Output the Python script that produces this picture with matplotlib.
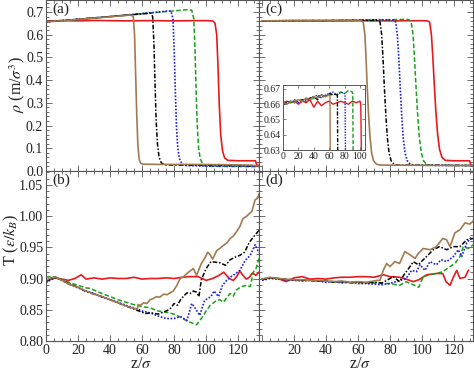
import matplotlib
matplotlib.use("Agg")
import matplotlib.pyplot as plt
from matplotlib.ticker import MultipleLocator, FormatStrFormatter, NullFormatter

plt.rcParams['font.family'] = ['Liberation Serif', 'DejaVu Serif']
plt.rcParams['mathtext.fontset'] = 'stix'

# ---------------- data ----------------
# panel (a): density profiles
z_a_brown = [0, 10, 20, 30, 40, 50, 53, 54.5, 55.3, 56.0, 56.7, 57.4, 58.2, 59.2, 61, 70, 90, 110, 128, 133]
r_a_brown = [0.657, 0.662, 0.667, 0.673, 0.679, 0.685, 0.687, 0.680, 0.60, 0.42, 0.24, 0.11, 0.05, 0.033, 0.030, 0.029, 0.029, 0.028, 0.026, 0.022]
z_a_black = [0, 10, 20, 30, 40, 50, 60, 65.5, 66.6, 67.4, 68.1, 68.8, 69.6, 70.6, 72, 74, 80, 100, 120, 133]
r_a_black = [0.657, 0.662, 0.668, 0.674, 0.680, 0.686, 0.692, 0.695, 0.680, 0.56, 0.38, 0.22, 0.12, 0.06, 0.036, 0.027, 0.026, 0.025, 0.024, 0.022]
z_a_blue = [0, 20, 40, 60, 70, 76, 78, 79.3, 80.1, 80.8, 81.5, 82.3, 83.3, 84.8, 86.5, 100, 133]
r_a_blue = [0.657, 0.668, 0.680, 0.693, 0.700, 0.705, 0.704, 0.67, 0.52, 0.34, 0.19, 0.10, 0.055, 0.032, 0.024, 0.022, 0.021]
z_a_green = [0, 20, 40, 60, 80, 89, 91, 92.3, 93.1, 93.8, 94.5, 95.3, 96.3, 97.8, 99.5, 110, 133]
r_a_green = [0.657, 0.668, 0.680, 0.693, 0.705, 0.711, 0.708, 0.67, 0.52, 0.34, 0.19, 0.10, 0.055, 0.030, 0.021, 0.020, 0.019]
z_a_red = [0, 10, 20, 30, 40, 50, 60, 70, 80, 90, 100, 104, 105.5, 106.6, 107.4, 108.2, 109.1, 110.2, 111.5, 113.5, 120, 130.8, 131.6, 133]
r_a_red = [0.661, 0.662, 0.661, 0.663, 0.662, 0.661, 0.662, 0.662, 0.661, 0.662, 0.662, 0.661, 0.652, 0.60, 0.46, 0.29, 0.16, 0.09, 0.058, 0.047, 0.045, 0.045, 0.027, 0.024]

# panel (c): density profiles
z_c_brown = [0, 20, 40, 62, 63.3, 64.3, 65.0, 65.7, 66.5, 67.5, 68.5, 69.7, 71.5, 74, 100, 133]
r_c_brown = [0.661, 0.662, 0.662, 0.662, 0.655, 0.60, 0.50, 0.38, 0.26, 0.15, 0.08, 0.045, 0.030, 0.026, 0.025, 0.024]
z_c_black = [0, 20, 40, 60, 72.5, 73.8, 74.8, 75.6, 76.4, 77.3, 78.3, 79.4, 80.7, 82.5, 85, 110, 133]
r_c_black = [0.661, 0.662, 0.662, 0.663, 0.663, 0.655, 0.60, 0.50, 0.38, 0.26, 0.15, 0.08, 0.045, 0.030, 0.026, 0.025, 0.024]
z_c_blue = [0, 20, 40, 60, 75, 82.3, 83.6, 84.6, 85.5, 86.3, 87.2, 88.2, 89.4, 90.8, 92.6, 95, 110, 133]
r_c_blue = [0.661, 0.662, 0.663, 0.664, 0.666, 0.665, 0.655, 0.60, 0.50, 0.38, 0.26, 0.15, 0.08, 0.045, 0.030, 0.026, 0.025, 0.024]
z_c_green = [0, 20, 40, 60, 80, 90, 92.0, 93.3, 94.4, 95.3, 96.2, 97.2, 98.3, 99.6, 101.0, 102.8, 105, 120, 133]
r_c_green = [0.661, 0.662, 0.663, 0.664, 0.666, 0.668, 0.666, 0.655, 0.60, 0.50, 0.38, 0.26, 0.15, 0.08, 0.045, 0.030, 0.026, 0.025, 0.024]
z_c_red = [0, 20, 40, 60, 80, 100, 103.5, 104.8, 105.9, 106.8, 107.7, 108.7, 109.8, 111.0, 112.5, 114.5, 120, 129.8, 130.6, 133]
r_c_red = [0.661, 0.662, 0.661, 0.662, 0.661, 0.662, 0.661, 0.655, 0.60, 0.50, 0.38, 0.26, 0.16, 0.095, 0.060, 0.047, 0.045, 0.045, 0.024, 0.022]

# inset of (c): zoom on the plateau
z_i_brown = [0, 5, 10, 15, 20, 25, 30, 35, 40, 45, 50, 55, 60, 61, 61.5]
r_i_brown = [0.661, 0.660, 0.662, 0.661, 0.663, 0.662, 0.664, 0.663, 0.665, 0.664, 0.666, 0.665, 0.666, 0.666, 0.620]
z_i_black = [0, 5, 10, 15, 20, 25, 30, 35, 40, 45, 50, 55, 60, 65, 70, 70.6, 71.2]
r_i_black = [0.660, 0.661, 0.662, 0.661, 0.662, 0.663, 0.662, 0.664, 0.665, 0.663, 0.666, 0.665, 0.667, 0.666, 0.667, 0.666, 0.620]
z_i_blue = [0, 5, 10, 15, 20, 25, 30, 35, 40, 45, 50, 55, 60, 65, 70, 75, 80, 80.6, 81.2]
r_i_blue = [0.661, 0.660, 0.662, 0.662, 0.661, 0.663, 0.663, 0.664, 0.665, 0.666, 0.664, 0.666, 0.667, 0.668, 0.666, 0.668, 0.667, 0.666, 0.620]
z_i_green = [0, 5, 10, 15, 20, 25, 30, 35, 40, 45, 50, 55, 60, 65, 70, 75, 80, 85, 90, 90.6, 91.2]
r_i_green = [0.660, 0.661, 0.661, 0.663, 0.662, 0.662, 0.664, 0.663, 0.664, 0.665, 0.666, 0.665, 0.666, 0.667, 0.666, 0.668, 0.667, 0.669, 0.668, 0.667, 0.620]
z_i_red = [0, 5, 10, 15, 20, 25, 30, 35, 40, 45, 50, 55, 60, 65, 70, 75, 80, 85, 90, 95, 100, 101, 102]
r_i_red = [0.661, 0.662, 0.661, 0.662, 0.660, 0.662, 0.661, 0.663, 0.658, 0.662, 0.659, 0.661, 0.662, 0.660, 0.661, 0.662, 0.661, 0.660, 0.662, 0.661, 0.662, 0.660, 0.620]

# panel (b): temperature profiles
z_b_red = [0, 3, 6, 10, 14, 18, 22, 25, 30, 35, 40, 45, 50, 55, 60, 65, 70, 75, 80, 85, 90, 95, 100, 104, 108, 111, 113, 115, 117, 119, 121, 123, 125, 127, 129, 131, 133]
T_b_red = [0.895, 0.899, 0.901, 0.899, 0.897, 0.900, 0.906, 0.899, 0.901, 0.899, 0.901, 0.900, 0.900, 0.902, 0.899, 0.900, 0.900, 0.901, 0.900, 0.902, 0.903, 0.903, 0.897, 0.900, 0.905, 0.910, 0.904, 0.899, 0.897, 0.903, 0.912, 0.905, 0.899, 0.902, 0.909, 0.905, 0.910]
z_b_green = [0, 3, 6, 10, 15, 20, 25, 28, 32, 36, 40, 45, 50, 55, 60, 65, 70, 75, 80, 84, 88, 92, 94, 97, 100, 102.5, 105, 106.7, 108.5, 110.8, 113, 115, 117, 119, 122, 125, 127.5, 129.6, 131, 133]
T_b_green = [0.902, 0.903, 0.902, 0.898, 0.893, 0.889, 0.885, 0.884, 0.879, 0.875, 0.871, 0.866, 0.862, 0.858, 0.855, 0.853, 0.848, 0.846, 0.843, 0.838, 0.832, 0.828, 0.826, 0.836, 0.848, 0.857, 0.862, 0.865, 0.866, 0.862, 0.870, 0.876, 0.872, 0.882, 0.887, 0.889, 0.887, 0.911, 0.915, 0.932]
z_b_blue = [0, 3, 6, 10, 15, 20, 25, 30, 35, 40, 45, 50, 55, 60, 65, 70, 75, 80, 84, 88, 91, 92.5, 94, 96, 99, 101, 103, 105, 107.7, 110, 112, 115, 118, 121, 124.4, 127.5, 130.6, 133]
T_b_blue = [0.893, 0.898, 0.901, 0.897, 0.890, 0.885, 0.880, 0.876, 0.870, 0.866, 0.862, 0.857, 0.853, 0.848, 0.845, 0.840, 0.836, 0.836, 0.839, 0.833, 0.860, 0.855, 0.849, 0.841, 0.865, 0.868, 0.871, 0.880, 0.871, 0.888, 0.895, 0.902, 0.907, 0.913, 0.929, 0.937, 0.954, 0.941]
z_b_black = [0, 3, 6, 10, 15, 20, 25, 30, 35, 40, 45, 50, 55, 58, 62, 66, 70, 73, 76, 78, 80, 82, 84, 86, 88, 90, 92, 94, 95.5, 97, 100, 103, 106, 109, 112, 115, 118, 121, 124, 127, 130, 133]
T_b_black = [0.895, 0.900, 0.902, 0.897, 0.891, 0.886, 0.879, 0.875, 0.871, 0.866, 0.861, 0.856, 0.851, 0.848, 0.844, 0.845, 0.843, 0.846, 0.849, 0.853, 0.860, 0.857, 0.866, 0.872, 0.877, 0.876, 0.880, 0.878, 0.871, 0.898, 0.916, 0.927, 0.926, 0.925, 0.921, 0.930, 0.934, 0.937, 0.942, 0.958, 0.968, 0.977]
z_b_brown = [0, 3, 6, 10, 15, 20, 25, 30, 35, 40, 45, 50, 55, 57, 57.5, 59, 61, 63, 65, 67, 69, 71, 73.5, 75.5, 77.5, 79.5, 81.7, 83.75, 86, 88, 90, 92, 94, 97, 99, 101, 102.5, 104, 106.7, 108.5, 110.8, 113, 115, 117, 119, 121, 123, 125, 127, 128.5, 130.6, 132, 133]
T_b_brown = [0.897, 0.901, 0.902, 0.897, 0.890, 0.886, 0.880, 0.875, 0.871, 0.866, 0.861, 0.856, 0.852, 0.851, 0.858, 0.857, 0.861, 0.860, 0.866, 0.868, 0.871, 0.870, 0.875, 0.874, 0.877, 0.880, 0.889, 0.900, 0.903, 0.908, 0.912, 0.916, 0.905, 0.924, 0.932, 0.942, 0.938, 0.931, 0.945, 0.948, 0.953, 0.957, 0.964, 0.968, 0.975, 0.983, 0.996, 0.999, 1.004, 1.007, 1.026, 1.028, 1.035]

# panel (d): temperature profiles
z_d_red = [0, 5, 10, 15, 20, 25, 30, 35, 40, 45, 50, 55, 60, 65, 70, 75.8, 80, 86, 90, 94.6, 98, 103, 109, 113, 115, 117.5, 119.6, 121.7, 123.75, 126.9, 129]
T_d_red = [0.899, 0.901, 0.900, 0.895, 0.901, 0.903, 0.899, 0.900, 0.899, 0.901, 0.902, 0.902, 0.903, 0.903, 0.902, 0.906, 0.903, 0.902, 0.899, 0.895, 0.898, 0.906, 0.908, 0.908, 0.895, 0.889, 0.902, 0.913, 0.900, 0.902, 0.913]
z_d_green = [0, 5, 10, 15, 20, 25, 30, 35, 40, 45, 50, 55, 60, 65, 70, 75, 80, 86, 90, 94.6, 98, 100.8, 105, 109, 113, 117.5, 120.6, 123.75, 125.8, 129, 132]
T_d_green = [0.899, 0.901, 0.900, 0.899, 0.898, 0.898, 0.897, 0.896, 0.896, 0.895, 0.895, 0.894, 0.894, 0.893, 0.893, 0.892, 0.892, 0.889, 0.895, 0.890, 0.886, 0.903, 0.906, 0.908, 0.911, 0.919, 0.924, 0.935, 0.951, 0.948, 0.954]
z_d_blue = [0, 5, 10, 15, 20, 25, 30, 35, 40, 45, 50, 55, 60, 65, 70, 75, 80, 85, 90, 93.5, 96.6, 98.75, 101.9, 105, 109, 112, 115.4, 119.6, 122.7, 124.8, 128, 131]
T_d_blue = [0.897, 0.900, 0.899, 0.898, 0.897, 0.896, 0.897, 0.896, 0.894, 0.895, 0.893, 0.894, 0.892, 0.892, 0.891, 0.890, 0.892, 0.896, 0.900, 0.913, 0.911, 0.922, 0.913, 0.927, 0.922, 0.930, 0.927, 0.935, 0.946, 0.935, 0.957, 0.967]
z_d_black = [0, 5, 10, 15, 20, 25, 30, 35, 40, 45, 50, 55, 60, 65, 70, 75, 78, 82, 84, 86, 89.3, 92.5, 94.6, 97.7, 100.8, 104, 107, 111, 115.4, 119.6, 123.75, 128, 132]
T_d_black = [0.898, 0.901, 0.900, 0.898, 0.898, 0.897, 0.897, 0.896, 0.896, 0.894, 0.895, 0.893, 0.894, 0.893, 0.894, 0.893, 0.897, 0.903, 0.899, 0.895, 0.908, 0.919, 0.927, 0.922, 0.930, 0.938, 0.946, 0.951, 0.946, 0.951, 0.951, 0.962, 0.964]
z_d_brown = [0, 5, 10, 15, 20, 25, 30, 35, 40, 45, 50, 55, 60, 65, 70, 72, 73.75, 75.8, 77.9, 80, 83, 86, 89.3, 92.5, 95.6, 97.7, 100.8, 105, 109, 113, 115.4, 117.5, 120.6, 123.75, 126.9, 130, 132]
T_d_brown = [0.899, 0.902, 0.900, 0.899, 0.898, 0.898, 0.897, 0.897, 0.896, 0.895, 0.896, 0.894, 0.895, 0.894, 0.896, 0.897, 0.897, 0.913, 0.924, 0.919, 0.927, 0.924, 0.943, 0.938, 0.932, 0.940, 0.948, 0.946, 0.951, 0.964, 0.962, 0.951, 0.973, 0.978, 0.989, 0.987, 0.992]

# ---------------- styles ----------------
RED, GREEN, BLUE, BLACK, BROWN = '#e8191c', '#1a9e1a', '#1c1ce0', '#000000', '#a37a50'
styles = {
    'red': dict(color=RED, ls='-', lw=1.2),
    'green': dict(color=GREEN, ls=(0, (3.0, 1.5)), lw=1.1),
    'blue': dict(color=BLUE, ls=(0, (1.0, 1.0)), lw=1.2),
    'black': dict(color=BLACK, ls=(0, (3.0, 1.2, 1.0, 1.2)), lw=1.1),
    'brown': dict(color=BROWN, ls='-', lw=1.2),
}
order = ['red', 'green', 'blue', 'black', 'brown']

W, H = 474, 375
fig = plt.figure(figsize=(W / 100, H / 100), dpi=100)

def box(x0, y0, x1, y1):
    return [x0 / W, 1 - y1 / H, (x1 - x0) / W, (y1 - y0) / H]

ax_a = fig.add_axes(box(46, 0, 259, 171))
ax_c = fig.add_axes(box(259, 0, 473, 171))
ax_b = fig.add_axes(box(46, 171, 259, 341))
ax_d = fig.add_axes(box(259, 171, 473, 341))

def data_for(prefix):
    g = globals()
    return {k: (g['z_%s_%s' % (prefix, k)], g[('r_' if prefix in 'aci' else 'T_') + '%s_%s' % (prefix, k)]) for k in order}

for ax, prefix in [(ax_a, 'a'), (ax_c, 'c'), (ax_b, 'b'), (ax_d, 'd')]:
    d = data_for(prefix)
    for k in order:
        ax.plot(d[k][0], d[k][1], **styles[k])

SPC = '#555555'
def style_axis(ax, xl, yl, xmaj, xmin, ymaj, ymin, labx, laby, fs=10):
    ax.set_xlim(*xl)
    ax.set_ylim(*yl)
    ax.xaxis.set_major_locator(MultipleLocator(xmaj))
    ax.xaxis.set_minor_locator(MultipleLocator(xmin))
    ax.yaxis.set_major_locator(MultipleLocator(ymaj))
    ax.yaxis.set_minor_locator(MultipleLocator(ymin))
    ax.tick_params(which='both', direction='in', top=True, right=True, colors=SPC,
                   labelcolor='#222222', labelsize=fs, width=0.6, pad=2)
    ax.tick_params(which='major', length=4)
    ax.tick_params(which='minor', length=2)
    for s in ax.spines.values():
        s.set_color(SPC)
        s.set_linewidth(0.8)
    if not labx:
        ax.xaxis.set_major_formatter(NullFormatter())
    if not laby:
        ax.yaxis.set_major_formatter(NullFormatter())

style_axis(ax_a, (0, 133), (0, 0.753), 20, 5, 0.1, 0.02, False, True)
ax_a.yaxis.set_major_formatter(FormatStrFormatter('%.1f'))
style_axis(ax_c, (-1.9, 131.9), (0, 0.753), 20, 5, 0.1, 0.02, False, False)
style_axis(ax_b, (0, 133), (0.8, 1.072), 20, 5, 0.05, 0.01, True, True)
ax_b.yaxis.set_major_formatter(FormatStrFormatter('%.2f'))
style_axis(ax_d, (-1.9, 131.9), (0.8, 1.072), 20, 5, 0.05, 0.01, True, False)
ax_d.xaxis.set_major_formatter(plt.FuncFormatter(lambda v, p: '' if abs(v) < 1e-9 else '%d' % v))

for ax, lab in [(ax_a, '(a)'), (ax_b, '(b)'), (ax_c, '(c)'), (ax_d, '(d)')]:
    ax.text(0.03, 0.985, lab, transform=ax.transAxes, ha='left', va='top', fontsize=11, color='#222222')

fig.text(17 / W, 1 - 85 / H, r'$\rho$ (m/$\sigma^3$)', rotation=90, ha='center', va='center', fontsize=11.5, color='#222222')
fig.text(11 / W, 1 - 240 / H, r'T ($\epsilon/k_B$)', rotation=90, ha='center', va='center', fontsize=11.5, color='#222222')
fig.text(141 / W, 1 - 364 / H, r'z/$\sigma$', ha='center', va='center', fontsize=11.5, color='#222222')
fig.text(360 / W, 1 - 364 / H, r'z/$\sigma$', ha='center', va='center', fontsize=11.5, color='#222222')

# inset
ax_i = fig.add_axes(box(283, 85, 365, 150))
d = data_for('i')
for k in order:
    st = dict(styles[k])
    st['lw'] = 1.0
    ax_i.plot(d[k][0], d[k][1], **st)
ax_i.set_xlim(0, 106.5)
ax_i.set_ylim(0.63, 0.6726)
ax_i.xaxis.set_major_locator(MultipleLocator(20))
ax_i.yaxis.set_major_locator(MultipleLocator(0.01))
ax_i.yaxis.set_major_formatter(FormatStrFormatter('%.2f'))
ax_i.tick_params(which='both', direction='in', top=True, right=True, colors=SPC,
                 labelcolor='#222222', labelsize=7, length=2.5, width=0.5, pad=1.5)
for s in ax_i.spines.values():
    s.set_color(SPC)
    s.set_linewidth(0.7)

fig.savefig('out.png', dpi=100)
